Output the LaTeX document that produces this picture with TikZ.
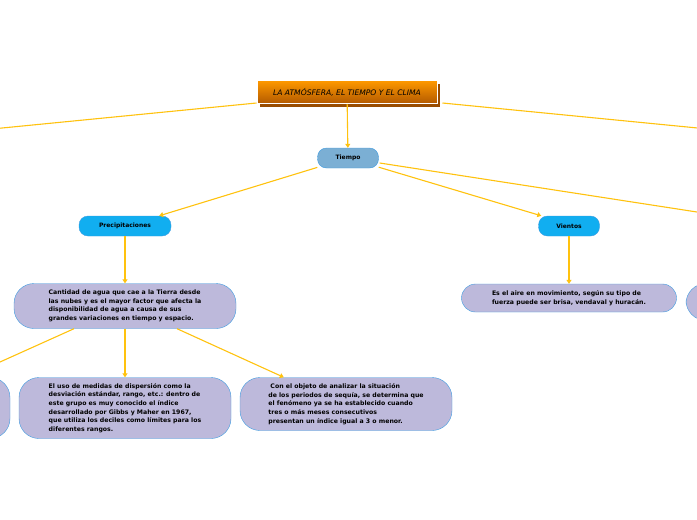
\documentclass[tikz,border=0pt]{standalone}
\usepackage{fontspec}
\setmainfont{DejaVu Sans}
\usetikzlibrary{arrows.meta,shadows,calc}
\definecolor{lnk}{HTML}{FFC20E}
\definecolor{lav}{HTML}{BDB9DB}
\definecolor{bord}{HTML}{3E9BE0}
\begin{document}
\begin{tikzpicture}[
  x=1pt,y=-1pt,
  tnode/.style={draw=white,line width=1pt,top color=orange!80!yellow,bottom color=orange!70!black,
    minimum width=180pt,minimum height=23pt,font=\itshape\fontsize{7.6}{8}\selectfont,
    drop shadow={shadow xshift=3pt,shadow yshift=-3pt,fill=orange!60!black,opacity=1}},
  mnode/.style={draw=bord,rounded corners=9pt,minimum height=20pt,font=\bfseries\fontsize{6}{7}\selectfont},
  bnode/.style={draw=bord,fill=lav,rounded corners=20pt,inner sep=0pt,align=left,font=\bfseries\fontsize{6.2}{8.6}\selectfont},
  line/.style={draw=lnk,line width=1.1pt},
  arr/.style={line,-{Triangle[length=4pt,width=5pt]}}
]
  \useasboundingbox (0,0) rectangle (697,520);

  % title and main topic
  \node[tnode] (title) at (347,92) {LA ATMÓSFERA, EL TIEMPO Y EL CLIMA};
  \node[mnode,minimum width=61pt,fill={rgb,255:red,123;green,175;blue,212}] (tiempo) at (348,158) {Tiempo};

  % sub topics
  \node[mnode,fill={rgb,255:red,17;green,174;blue,240},minimum width=92pt] (precip) at (125,226) {Precipitaciones};
  \node[mnode,fill={rgb,255:red,17;green,174;blue,240},minimum width=61pt] (vientos) at (569,226) {Vientos};

  % details
  \node[bnode,minimum width=222pt,minimum height=45pt] (cantidad) at (125,306) {Cantidad de agua que cae a la Tierra desde\\las nubes y es el mayor factor que afecta la\\disponibilidad de agua a causa de sus\\grandes variaciones en tiempo y espacio.};
  \node[bnode,minimum width=212pt,minimum height=61pt] (uso) at (125,408) {El uso de medidas de dispersión como la\\desviación estándar, rango, etc.: dentro de\\este grupo es muy conocido el índice\\desarrollado por Gibbs y Maher en 1967,\\que utiliza los deciles como límites para los\\diferentes rangos.};
  \node[bnode,minimum width=212pt,minimum height=53pt] (objeto) at (346,404) {\ Con el objeto de analizar la situación\\de los periodos de sequía, se determina que\\el fenómeno ya se ha establecido cuando\\tres o más meses consecutivos\\presentan un índice igual a 3 o menor.};
  \node[bnode,minimum width=215pt,minimum height=28pt,rounded corners=14pt] (aire) at (569,298) {Es el aire en movimiento, según su tipo de\\fuerza puede ser brisa, vendaval y huracán.};

  % partly visible nodes
  \node[bnode,minimum width=220pt,minimum height=61pt] (izq) at (-100,408) {};
  \node[bnode,minimum width=220pt,minimum height=37pt] (der) at (796,302) {};
  \coordinate (ctaL) at (-120,140);
  \coordinate (ctaR) at (820,140);
  \coordinate (tiR) at (820,231);
  \coordinate (caL) at (-40,380);

  % links
  \draw[arr] (title) -- (tiempo);
  \draw[line] ($(title.south west)+(0,-1)$) -- (ctaL);
  \draw[line] ($(title.south east)+(5,-1)$) -- (ctaR);
  \draw[arr] (tiempo) -- ($(precip.north east)+(-12,0)$);
  \draw[arr] (tiempo) -- ($(vientos.north west)+(3,0)$);
  \draw[line] ($(tiempo.east)+(1,5)$) -- (tiR);
  \draw[arr] (precip) -- (cantidad);
  \draw[arr] (vientos) -- (aire);
  \draw[arr] (cantidad) -- (uso);
  \draw[arr] ($(cantidad.south)+(52,0)$) -- ($(objeto.north west)+(44,0)$);
  \draw[line] ($(cantidad.south)+(-51,0)$) -- (caL);
\end{tikzpicture}
\end{document}
